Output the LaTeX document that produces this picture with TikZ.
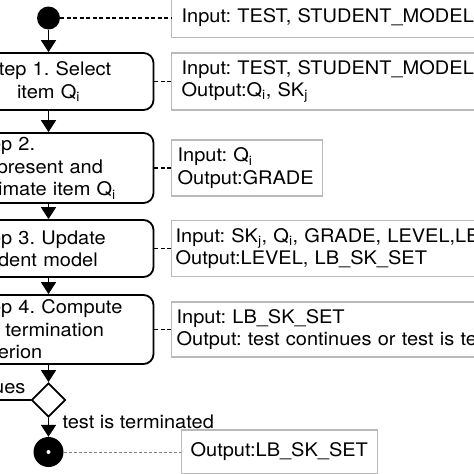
\documentclass[tikz,border=0pt]{standalone}
\usepackage{fontspec}
\setmainfont{TeX Gyre Heros}[FakeStretch=1.07]
\usetikzlibrary{shapes.geometric,arrows.meta}
\frenchspacing

\newcommand{\diagfont}{\fontsize{18.7}{22.5}\selectfont}

\tikzset{
  stepbox/.style={draw, line width=1.8pt, rounded corners=10pt, minimum width=210pt,
    text width=154pt, inner xsep=28pt, inner ysep=0pt, align=left},
  infobox/.style={draw=gray!55, line width=1.2pt, anchor=west, inner ysep=0pt,
    text width=#1, align=left},
  flow/.style={line width=1.8pt, -{Triangle[width=15pt,length=12pt]}},
  link/.style={line width=1.6pt, dash pattern=on 4pt off 2.5pt},
}

\begin{document}
\begin{tikzpicture}[x=1pt, y=-1pt, font=\diagfont]

% Frame of the picture
\useasboundingbox (0,0) rectangle (474,474);
\clip (0,0) rectangle (474,474);

% Start and end
\node[circle, fill, minimum size=23pt, inner sep=0pt] (start) at (48.5,18) {};
\node[circle, fill, minimum size=30pt, inner sep=0pt] (stop) at (48.5,452) {};
\fill[white] (stop) circle (2pt);

% Steps
\node[stepbox, align=center, minimum height=57pt] (s1) at (48.5,81.5)
  {Step 1. Select\\item Q\textsubscript{i}};
\node[stepbox, minimum height=70pt] (s2) at (48.5,168)
  {Step 2.\\Represent and\\estimate item Q\textsubscript{i}};
\node[stepbox, minimum height=57pt] (s3) at (48.5,248.5)
  {Step 3. Update\\student model};
\node[stepbox, minimum height=69pt] (s4) at (48.5,329.5)
  {Step 4. Compute\\the termination\\criterion};

% Decision
\node[diamond, draw, line width=1.8pt, minimum size=34pt, inner sep=0pt] (dec) at (48.5,400) {};
\coordinate (cont) at (-10,400);

% Data boxes
\node[infobox=600pt, inner xsep=10pt, minimum height=39pt] (i1) at (171,18)
  {Input: TEST, STUDENT\_MODEL};
\node[infobox=600pt, inner xsep=10pt, minimum height=57pt] (i2) at (171,81.5)
  {Input: TEST, STUDENT\_MODEL\\Output:Q\textsubscript{i}, SK\textsubscript{j}};
\node[infobox=139pt, inner xsep=6pt, minimum height=56pt] (i3) at (171,168)
  {Input: Q\textsubscript{i}\\Output:GRADE};
\node[infobox=600pt, inner xsep=4pt, minimum height=56pt] (i4) at (171,248.5)
  {Input: SK\textsubscript{j}, Q\textsubscript{i}, GRADE, LEVEL,LB\_SK\_SET\\Output:LEVEL, LB\_SK\_SET};
\node[infobox=600pt, inner xsep=5pt, minimum height=55pt] (i5) at (171,329.5)
  {Input: LB\_SK\_SET\\Output: test continues or test is terminated};
\node[infobox=178pt, inner xsep=9pt, minimum height=44pt] (i6) at (181,452)
  {Output:LB\_SK\_SET};

% Control flow
\draw[flow] (start) -- (s1);
\draw[flow] (s1) -- (s2);
\draw[flow] (s2) -- (s3);
\draw[flow] (s3) -- (s4);
\draw[flow] (s4) -- (dec);
\draw[flow] (dec) -- (stop);
\draw[line width=1.8pt] (dec) -- (cont);

% Branch labels
\node[anchor=base east] (lcont) at (29,393) {test continues};
\node[anchor=base west] (lterm) at (59,428) {test is terminated};

% Data links
\draw[link] (start) -- (i1);
\draw[link] (s1) -- (i2);
\draw[link] (s2) -- (i3);
\draw[link] (s3) -- (i4);
\draw[link] (s4) -- (i5);
\draw[gray, line width=0.7pt, dash pattern=on 3pt off 2pt] (stop) -- (i6);

\end{tikzpicture}
\end{document}
